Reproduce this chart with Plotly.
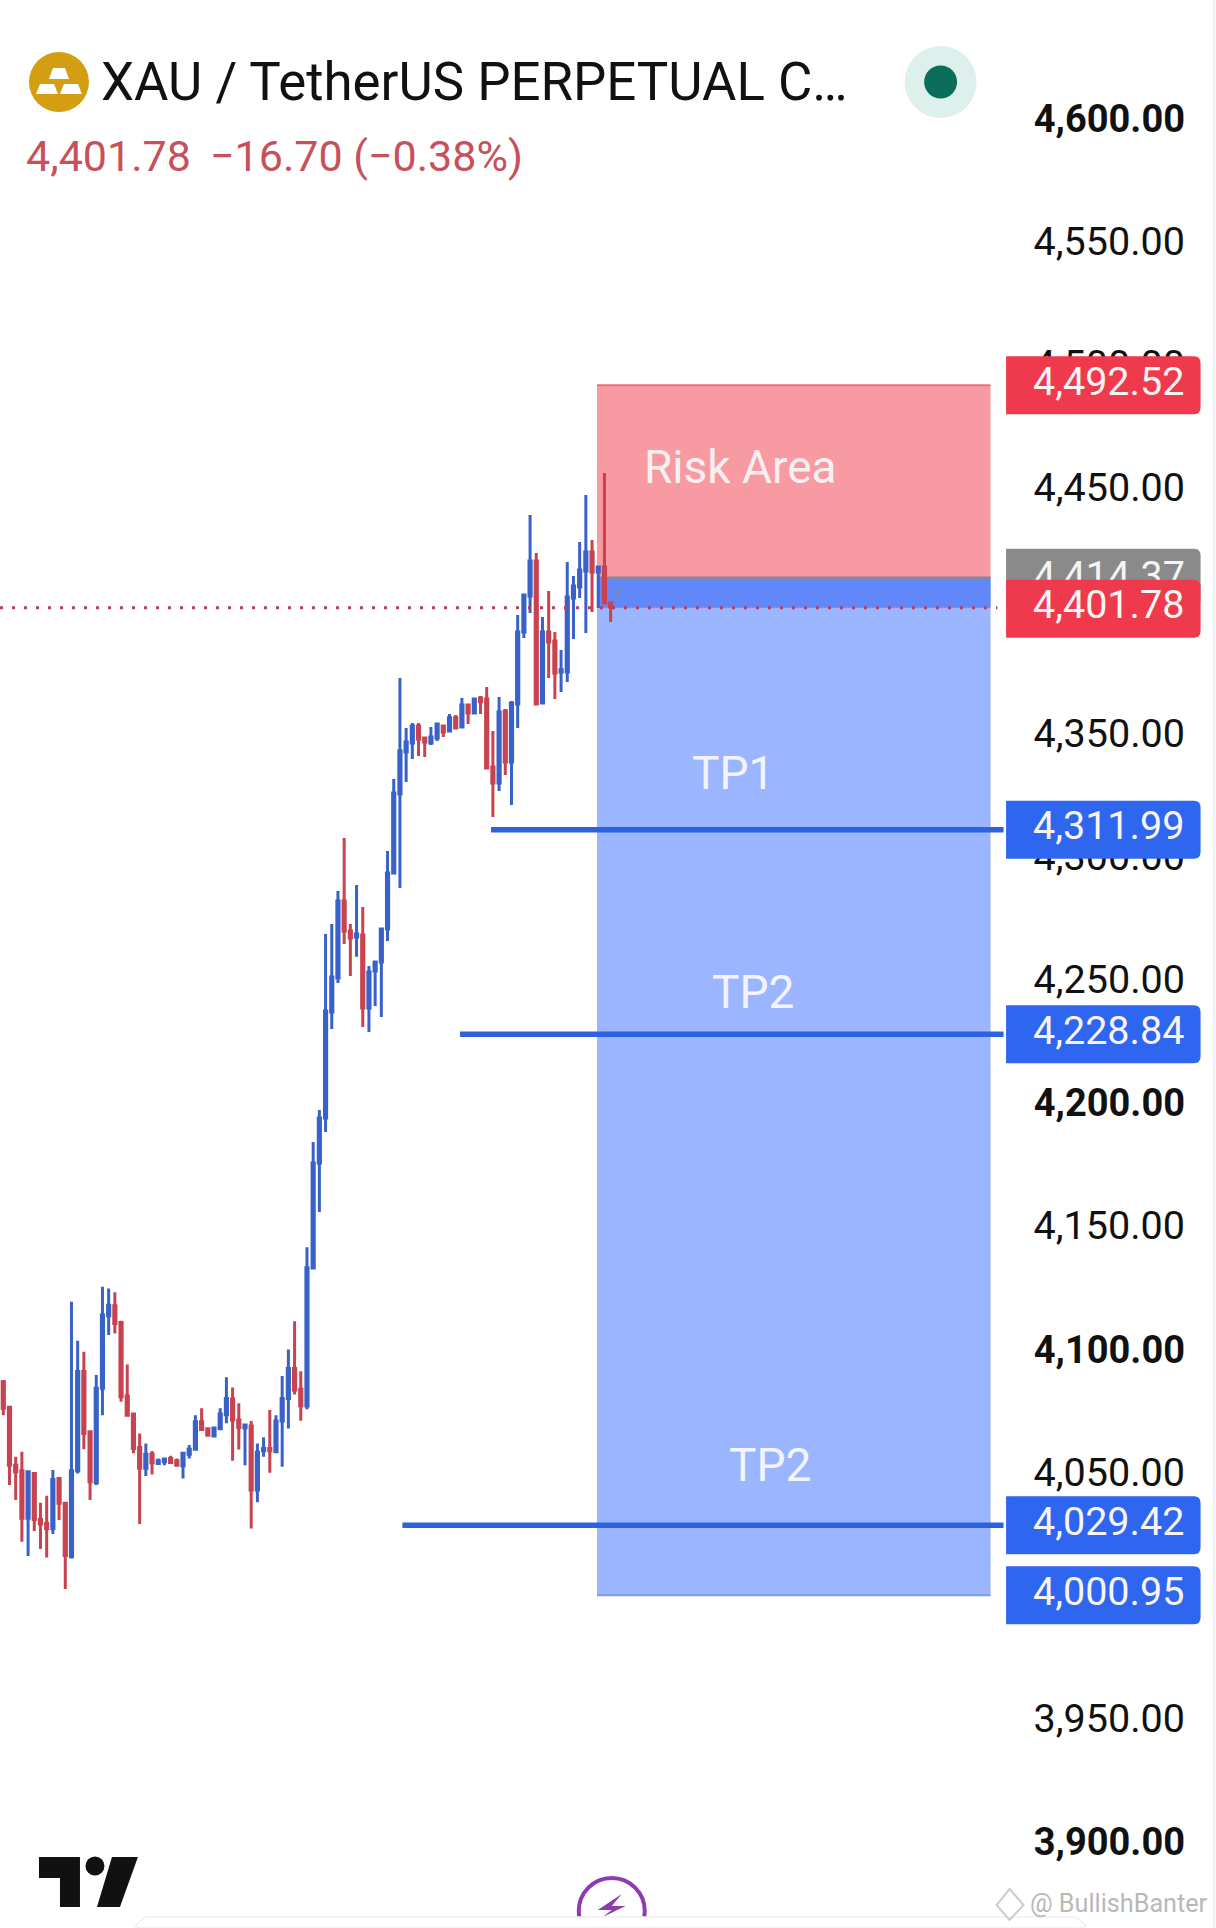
import plotly.graph_objects as go

W, H = 1216, 1928
PLOT_W = 1188.5

opens = [
4087.0,4076.6,4053.1,4050.8,4031.5,4049.7,4031.0,4029.4,4027.4,4047.7,
4037.6,4015.9,4050.8,4091.1,4066.7,4046.0,4084.3,4113.8,4117.9,4111.1,
4081.2,4073.9,4060.3,4051.8,4057.5,4053.8,4054.5,4055.8,4054.9,4052.9,
4057.5,4059.6,4070.7,4067.9,4064.9,4067.9,4073.6,4080.0,4071.4,4068.3,
4069.0,4043.0,4059.0,4059.9,4058.5,4071.0,4080.2,4092.4,4083.9,4077.1,
4133.2,4175.9,4194.1,4237.2,4251.0,4282.3,4270.1,4267.7,4268.5,4238.8,
4253.9,4257.5,4270.9,4293.7,4325.8,4342.8,4346.5,4353.4,4348.5,4346.5,
4348.5,4353.4,4351.4,4356.7,4353.0,4361.9,4358.7,4364.8,4364.4,4336.7,
4330.2,4359.5,4338.8,4362.3,4391.6,4406.2,4420.4,4362.7,4391.6,4387.9,
4375.3,4375.3,4405.4,4409.9,4416.4,4424.1,4416.0,4418.0,4403.4]
highs = [
4087.7,4076.8,4056.5,4058.5,4050.4,4050.0,4037.8,4040.7,4051.1,4048.1,
4037.8,4119.5,4103.6,4099.2,4067.1,4089.7,4125.6,4124.9,4123.3,4111.8,
4094.0,4074.1,4066.0,4061.9,4058.9,4055.8,4055.8,4056.9,4055.8,4058.3,
4061.3,4073.4,4076.2,4068.4,4068.4,4076.2,4088.8,4084.7,4078.2,4069.7,
4071.0,4061.9,4064.4,4075.5,4073.4,4089.3,4100.1,4111.6,4091.3,4141.6,
4184.4,4197.4,4268.9,4273.0,4286.4,4307.9,4273.0,4288.8,4279.9,4255.9,
4257.9,4270.9,4302.6,4331.9,4372.9,4352.6,4354.6,4354.6,4348.5,4353.0,
4354.6,4353.8,4358.3,4357.9,4364.8,4362.3,4364.8,4365.6,4369.2,4351.4,
4365.2,4360.3,4363.6,4398.5,4406.6,4439.1,4423.7,4397.7,4408.2,4391.6,
4384.3,4420.0,4414.3,4428.2,4447.2,4429.0,4418.0,4456.2,4403.8]
lows = [
4073.4,4045.0,4038.9,4022.0,4016.2,4026.3,4019.0,4015.6,4025.1,4030.8,
4002.8,4015.2,4049.7,4059.6,4038.9,4045.0,4073.4,4106.0,4106.6,4078.9,
4073.2,4057.9,4029.2,4048.7,4049.3,4053.5,4053.1,4053.8,4052.9,4047.7,
4055.8,4059.5,4067.4,4065.0,4064.6,4067.6,4070.1,4054.9,4059.5,4053.1,
4027.4,4038.0,4056.5,4050.0,4058.3,4052.5,4068.0,4081.8,4071.1,4075.8,
4133.2,4156.0,4188.5,4230.3,4249.0,4264.8,4251.8,4259.6,4231.1,4229.1,
4239.6,4235.2,4266.0,4293.7,4287.6,4330.6,4340.0,4341.2,4340.8,4345.7,
4347.3,4348.9,4351.0,4352.2,4353.0,4354.2,4358.3,4358.3,4336.3,4316.4,
4327.0,4333.5,4321.3,4352.6,4389.2,4399.3,4361.9,4362.7,4372.9,4364.4,
4367.2,4371.3,4388.7,4405.4,4391.2,4399.7,4401.3,4403.4,4395.7]
closes = [
4076.2,4053.1,4050.4,4031.5,4050.4,4031.0,4029.2,4027.4,4047.3,4037.6,
4016.4,4050.8,4091.1,4066.0,4046.4,4084.3,4114.1,4118.1,4110.7,4080.9,
4073.4,4059.9,4051.8,4057.5,4054.1,4054.9,4055.6,4054.2,4053.1,4057.9,
4059.6,4070.7,4067.6,4065.3,4068.2,4073.9,4080.2,4071.4,4068.4,4069.4,
4043.0,4058.3,4059.9,4059.0,4071.0,4080.2,4092.4,4083.6,4077.2,4133.3,
4175.9,4194.1,4237.6,4251.4,4282.3,4270.1,4267.3,4268.9,4238.8,4253.5,
4257.5,4270.9,4293.7,4326.2,4343.2,4346.9,4353.4,4348.1,4346.9,4348.9,
4354.2,4351.0,4356.7,4352.6,4361.9,4358.7,4364.4,4363.2,4336.3,4330.2,
4359.1,4338.8,4362.7,4391.6,4406.6,4420.4,4362.3,4391.6,4387.5,4374.9,
4376.2,4405.8,4410.3,4416.8,4424.1,4416.0,4418.0,4403.4,4401.78]
candle_index = list(range(1, len(closes) + 1))

axis_ticks = [4600, 4550, 4500, 4450, 4414.37, 4350, 4300, 4250, 4200, 4150, 4100, 4050, 3950, 3900]
bold_ticks = [4600, 4200, 4100, 3900]

last_price = 4401.78
entry_price = 4414.37
stop_price = 4492.52
target_price = 4000.95
tp_prices = [4311.99, 4228.84, 4029.42]
tp_names = ["TP1", "TP2", "TP2"]
tp_starts = [79.7, 74.7, 65.4]
box_start, box_end = 96.8, 160.3
line_end = 162.4

X_RANGE = [0.468, 192.16]
Y_RANGE = [3865.06, 4648.35]
MARK_DROP = 0.7  # the drawn overlays sit slightly under their nominal price

RED, BLUE = "#C8434F", "#3862C9"
FONT = "Roboto"


def px(x):
    return x / PLOT_W


def py(y):
    return 1 - y / H


def poly(points, close=True):
    s = "M " + " L ".join(f"{px(a):.5f},{py(b):.5f}" for a, b in points)
    return s + (" Z" if close else "")


def paper_path(path, fill, line=None, lw=0, layer="above"):
    return dict(type="path", xref="paper", yref="paper", path=path, fillcolor=fill,
                line=dict(color=line or fill, width=lw), layer=layer)


def circle(cx, cy, r, fill, line=None, lw=0):
    return dict(type="circle", xref="paper", yref="paper", x0=px(cx - r), x1=px(cx + r),
                y0=py(cy + r), y1=py(cy - r), fillcolor=fill,
                line=dict(color=line or fill, width=lw), layer="above")


def price_tag(price, color, layer="above"):
    return dict(type="path", xref="paper", yref="y", xsizemode="pixel", ysizemode="pixel",
                xanchor=px(1006.5), yanchor=price - MARK_DROP,
                path="M 0,-29 L 188,-29 Q 194.5,-29 194.5,-22 L 194.5,22 Q 194.5,29 188,29 L 0,29 Z",
                fillcolor=color, line=dict(width=0), layer=layer)


fig = go.Figure()
fig.add_trace(go.Candlestick(
    x=candle_index, open=opens, high=highs, low=lows, close=closes,
    increasing=dict(line=dict(color=BLUE, width=3), fillcolor=BLUE),
    decreasing=dict(line=dict(color=RED, width=3), fillcolor=RED),
    whiskerwidth=0, hoverinfo="skip", showlegend=False))
fig.add_trace(go.Scatter(
    x=[X_RANGE[0], 161.4], y=[last_price - MARK_DROP / 2] * 2, mode="lines", hoverinfo="skip", showlegend=False,
    line=dict(color="#B5405E", width=3, dash="3px,9px")))
for start, price in zip(tp_starts, tp_prices):
    fig.add_trace(go.Scatter(
        x=[start, line_end], y=[price - MARK_DROP, price - MARK_DROP], mode="lines", hoverinfo="skip",
        showlegend=False, line=dict(color="#2D62DE", width=5.5)))
fig.add_trace(go.Scatter(
    x=[99.6, 100.5], y=[4405.0, 4410.0], mode="lines", hoverinfo="skip", showlegend=False,
    line=dict(color="#7A8AA8", width=2.5)))

box_stop = stop_price - MARK_DROP
box_entry = entry_price - MARK_DROP
box_target = target_price - MARK_DROP
box_last = last_price - MARK_DROP / 2
shapes = [
    dict(type="rect", xref="x", yref="y", x0=box_start, x1=box_end, y0=box_entry, y1=box_stop,
         fillcolor="#F89AA2", line=dict(width=0), layer="below"),
    dict(type="rect", xref="x", yref="y", x0=box_start, x1=box_end, y0=box_target, y1=box_entry,
         fillcolor="#9BB5FE", line=dict(width=0), layer="below"),
    dict(type="rect", xref="x", yref="y", x0=box_start, x1=box_end, y0=box_last, y1=box_entry,
         fillcolor="#6088FB", line=dict(width=0), layer="below"),
    dict(type="line", xref="x", yref="y", x0=box_start, x1=box_end, y0=box_stop, y1=box_stop,
         line=dict(color="#E8707C", width=2), layer="below"),
    dict(type="line", xref="x", yref="y", x0=box_start, x1=box_end, y0=box_entry, y1=box_entry,
         line=dict(color="#8A8598", width=2.5), layer="below"),
    dict(type="line", xref="x", yref="y", x0=box_start, x1=box_end, y0=box_target, y1=box_target,
         line=dict(color="#7D9BE8", width=2), layer="below"),
    price_tag(entry_price, "#8A8A8A", layer="below"),
    price_tag(stop_price, "#EE3A4C"),
    price_tag(last_price, "#EE3A4C"),
    price_tag(target_price, "#2F66F0"),
]
for p in tp_prices:
    shapes.append(price_tag(p, "#2F66F0"))

# header badge and status dot
shapes += [
    circle(59, 82, 30, "#D49E12"),
    paper_path(poly([(53, 68), (65, 68), (69, 79), (49, 79)]), "white"),
    paper_path(poly([(40, 84), (54, 84), (58, 94), (36, 94)]), "white"),
    paper_path(poly([(64, 84), (78, 84), (82, 94), (60, 94)]), "white"),
    circle(941, 82, 36, "#DDF0EC"),
    circle(941, 82, 16.5, "#0B6E5C"),
]
# TradingView logo
shapes += [
    paper_path(poly([(39, 1857), (80, 1857), (80, 1907), (60, 1907), (60, 1878), (39, 1878)]), "#111111"),
    circle(95, 1866, 9.5, "#111111"),
    paper_path(poly([(112, 1857), (138, 1857), (120, 1907), (97, 1907)]), "#111111"),
]
# bottom button and card
shapes += [
    circle(612, 1911, 33, "rgba(0,0,0,0)", "#8E3BB0", 4),
    paper_path(poly([(622, 1894), (598, 1910), (612, 1910), (603, 1917), (626, 1906), (612, 1906)]), "#8E3BB0"),
    paper_path(poly([(136, 1928), (136, 1925), (146, 1917), (1076, 1917), (1086, 1925), (1086, 1928)]),
               "white", "#F0F0F0", 1.5),
    paper_path(poly([(1010, 1889), (1024, 1905), (1010, 1920), (997, 1905)]), "rgba(0,0,0,0)", "#CCCCCC", 2),
    paper_path(poly([(1213, 0), (1216, 0), (1216, H), (1213, H)]), "#F0F1F6"),
]


def text_at(x, y, text, size, color, anchor="left"):
    return dict(xref="paper", yref="paper", x=px(x), y=py(y), text=text, showarrow=False,
                xanchor=anchor, yanchor="middle",
                font=dict(family=FONT, size=size, color=color))


annotations = [
    text_at(99.5, 82, "XAU / TetherUS PERPETUAL C…", 52.8, "#111111"),
    text_at(24.5, 155.5, "4,401.78", 43, "#C8505A"),
    text_at(208.5, 155.5, "−16.70 (−0.38%)", 43, "#C8505A"),
    text_at(642.5, 467, "Risk Area", 46, "#F6F0F2"),
    text_at(1028.5, 1903, "@ BullishBanter", 25.2, "#B8B8B8"),
]
label_spots = [(690.5, 773), (710.5, 992), (727.5, 1465)]
for name, (lx, ly) in zip(tp_names, label_spots):
    annotations.append(text_at(lx, ly, name, 46, "#F2F5FF"))
for price in [stop_price, last_price, target_price] + tp_prices:
    annotations.append(dict(xref="paper", yref="y", x=px(1186), y=price, yshift=2, text=f"{price:,.2f}",
                            showarrow=False, xanchor="right", yanchor="middle",
                            font=dict(family=FONT, size=39.5, color="#F8F4F4")))


def tick_text(v):
    s = f"{v:,.2f}"
    if v == entry_price:
        return f'<span style="color:#F4F4F4">{s}</span>'
    if v in bold_ticks:
        return f'<b><span style="font-size:38px">{s}</span></b>'
    return s


fig.update_layout(
    width=W, height=H, autosize=False,
    margin=dict(l=0, r=W - PLOT_W, t=0, b=0, pad=0),
    paper_bgcolor="white", plot_bgcolor="white",
    boxgap=0.5, hovermode=False, showlegend=False,
    shapes=shapes, annotations=annotations,
    xaxis=dict(range=X_RANGE, visible=False, rangeslider=dict(visible=False), fixedrange=True),
    yaxis=dict(range=Y_RANGE, side="right", ticklabelposition="inside", showgrid=False, zeroline=False,
               showline=False, ticks="", tickmode="array", tickvals=axis_ticks,
               ticktext=[tick_text(v) for v in axis_ticks], ticklabelshift=-1,
               tickfont=dict(family=FONT, size=39.5, color="#111111"), fixedrange=True),
)
fig.write_html("out.html", post_script="document.body.style.margin='0';",
               config=dict(displayModeBar=False))
